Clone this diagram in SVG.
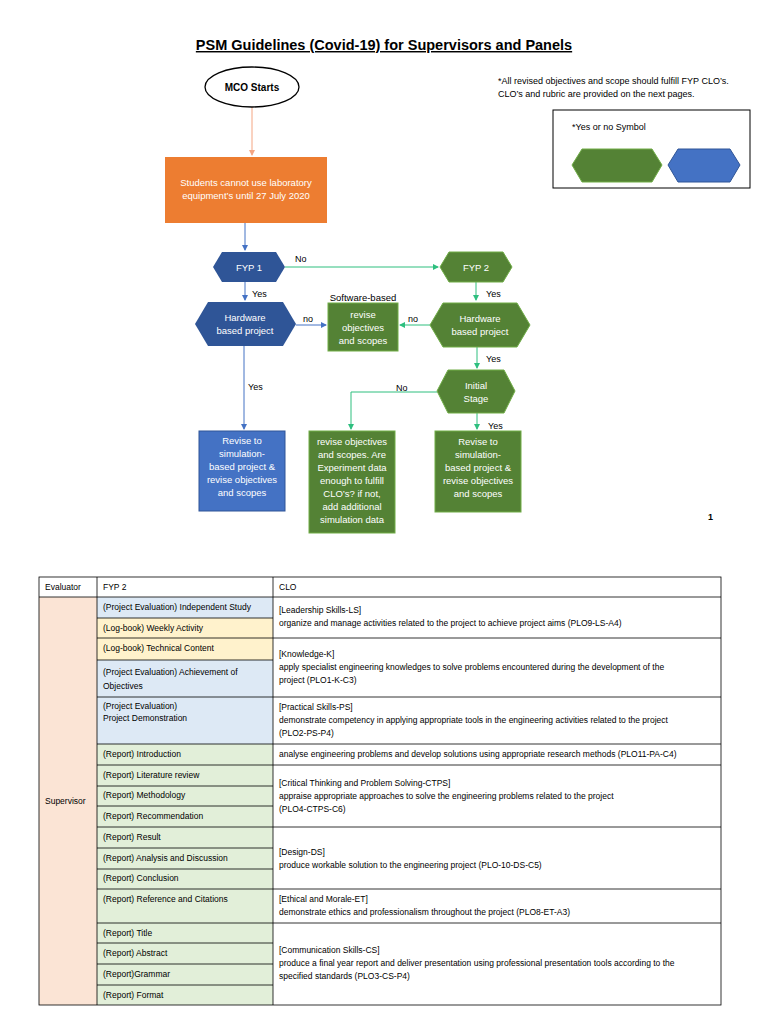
<svg xmlns="http://www.w3.org/2000/svg" width="768" height="1024" viewBox="0 0 768 1024">
<style>
text{font-family:"Liberation Sans",Arial,sans-serif}
.w{fill:#fff;font-size:9.5px;text-anchor:middle}
.k{fill:#000;font-size:9px}
.t{font-size:8.5px;fill:#000}
.g{fill:#548235;stroke:#70ad47;stroke-width:1}
.cell{stroke:#000;stroke-width:0.8}
</style>
<defs>
<marker id="ab" viewBox="0 0 6 6" refX="5" refY="3" markerWidth="6" markerHeight="6" orient="auto"><path d="M0,0L6,3L0,6z" fill="#4472c4"/></marker>
<marker id="ag" viewBox="0 0 6 6" refX="5" refY="3" markerWidth="6" markerHeight="6" orient="auto"><path d="M0,0L6,3L0,6z" fill="#2ebf7f"/></marker>
<marker id="ao" viewBox="0 0 6 6" refX="5" refY="3" markerWidth="6" markerHeight="6" orient="auto"><path d="M0,0L6,3L0,6z" fill="#f4a582"/></marker>
</defs>
<rect width="768" height="1024" fill="#fff"/>
<text x="384" y="50" text-anchor="middle" font-size="14.5" font-weight="bold" text-decoration="underline">PSM Guidelines (Covid-19) for Supervisors and Panels</text>
<g id="note"><text x="498" y="84" class="k">*All revised objectives and scope should fulfill FYP CLO’s.</text><text x="498" y="97" class="k">CLO’s and rubric are provided on the next pages.</text></g>
<g id="legend"><rect x="553" y="110" width="197" height="78" fill="#fff" stroke="#000"/><text x="572" y="130" class="k">*Yes or no Symbol</text>
<polygon points="582,149 652,149 662,165 652,182 582,182 572,165" class="g"/>
<polygon points="678,149 730,149 740,165 730,182 678,182 668,165" fill="#4472c4" stroke="#2f5597"/></g>
<g id="connectors" fill="none">
<path d="M252,107V155" stroke="#f4a582" marker-end="url(#ao)"/>
<path d="M245,223V250" stroke="#4472c4" marker-end="url(#ab)"/>
<path d="M285,267H438" stroke="#2ebf7f" marker-end="url(#ag)"/>
<path d="M245,282V300" stroke="#4472c4" marker-end="url(#ab)"/>
<path d="M296,325H326" stroke="#4472c4" marker-end="url(#ab)"/>
<path d="M476,282V300" stroke="#2ebf7f" marker-end="url(#ag)"/>
<path d="M430,325H400" stroke="#2ebf7f" marker-end="url(#ag)"/>
<path d="M477,347V368" stroke="#2ebf7f" marker-end="url(#ag)"/>
<path d="M244,346V429" stroke="#4472c4" marker-end="url(#ab)"/>
<path d="M437,392H351V429" stroke="#2ebf7f" marker-end="url(#ag)"/>
<path d="M477,413V429" stroke="#2ebf7f" marker-end="url(#ag)"/>
</g>
<g id="labels" class="k">
<text x="295" y="262">No</text><text x="252" y="297">Yes</text><text x="303" y="322">no</text><text x="408" y="322">no</text>
<text x="486" y="297">Yes</text><text x="486" y="362">Yes</text><text x="248" y="390">Yes</text><text x="396" y="391">No</text><text x="488" y="429">Yes</text>
</g>
<g id="mco"><ellipse cx="252" cy="87" rx="47" ry="20" fill="#fff" stroke="#000" stroke-width="1.3"/><text x="252" y="91" text-anchor="middle" font-size="10" font-weight="bold">MCO Starts</text></g>
<g id="students"><rect x="165" y="157" width="162" height="66" fill="#ed7d31"/><text class="w" x="246" y="186">Students cannot use laboratory</text><text class="w" x="246" y="199">equipment’s until 27 July 2020</text></g>
<g id="fyp1"><polygon points="222,252 276,252 285,267 276,282 222,282 213,267" fill="#2f5597"/><text class="w" x="249" y="271">FYP 1</text></g>
<g id="fyp2"><polygon points="449,252 503,252 512,267 503,282 449,282 440,267" class="g"/><text class="w" x="476" y="271">FYP 2</text></g>
<g id="hw1"><polygon points="208,302 283,302 296,324 283,346 208,346 195,324" fill="#2f5597"/><text class="w" x="245" y="321">Hardware</text><text class="w" x="245" y="334">based project</text></g>
<g id="sw"><text x="363" y="301" text-anchor="middle" font-size="9.5">Software-based</text><rect x="328" y="303" width="70" height="48" class="g"/><text class="w" x="363" y="318">revise</text><text class="w" x="363" y="331">objectives</text><text class="w" x="363" y="344">and scopes</text></g>
<g id="hw2"><polygon points="443,303 517,303 530,325 517,347 443,347 430,325" class="g"/><text class="w" x="480" y="322">Hardware</text><text class="w" x="480" y="335">based project</text></g>
<g id="init"><polygon points="448,370 504,370 515,391 504,413 448,413 437,391" class="g"/><text class="w" x="476" y="389">Initial</text><text class="w" x="476" y="402">Stage</text></g>
<g id="blue"><rect x="199" y="431" width="86" height="80" fill="#4472c4" stroke="#2f5597"/><text class="w" x="242" y="444">Revise to</text><text class="w" x="242" y="457">simulation-</text><text class="w" x="242" y="470">based project &amp;</text><text class="w" x="242" y="483">revise objectives</text><text class="w" x="242" y="496">and scopes</text></g>
<g id="mid"><rect x="309" y="431" width="86" height="102" class="g"/><text class="w" x="352" y="445">revise objectives</text><text class="w" x="352" y="458">and scopes. Are</text><text class="w" x="352" y="471">Experiment data</text><text class="w" x="352" y="484">enough to fulfill</text><text class="w" x="352" y="497">CLO’s? if not,</text><text class="w" x="352" y="510">add additional</text><text class="w" x="352" y="523">simulation data</text></g>
<g id="right"><rect x="435" y="431" width="86" height="81" class="g"/><text class="w" x="478" y="445">Revise to</text><text class="w" x="478" y="458">simulation-</text><text class="w" x="478" y="471">based project &amp;</text><text class="w" x="478" y="484">revise objectives</text><text class="w" x="478" y="497">and scopes</text></g>
<text x="708" y="520" font-size="9" font-weight="bold">1</text>
<g id="table">
<rect x="39" y="597" width="58" height="408" fill="#fbe4d5"/>
<rect x="97" y="597" width="176" height="21" fill="#dde9f5"/>
<rect x="97" y="618" width="176" height="42" fill="#fff2cc"/>
<rect x="97" y="660" width="176" height="84" fill="#dde9f5"/>
<rect x="97" y="744" width="176" height="261" fill="#e2efd9"/>
<g class="cell" fill="none">
<rect x="39" y="577" width="682" height="428"/>
<path d="M97,577V1005M273,577V1005M39,597H721"/>
<path d="M97,618H273M97,638H721M97,660H273M97,697H721M97,744H721M97,765H721M97,786H273M97,806H273M97,827H721M97,848H273M97,869H273M97,889H721M97,923H721M97,943H273M97,964H273M97,985H273"/>
</g>
<g class="t">
<text x="45" y="590">Evaluator</text><text x="103" y="590">FYP 2</text><text x="279" y="590">CLO</text>
<text x="45" y="804">Supervisor</text>
<text x="103" y="610">(Project Evaluation) Independent Study</text>
<text x="103" y="631">(Log-book) Weekly Activity</text>
<text x="103" y="651">(Log-book) Technical Content</text>
<text x="103" y="675">(Project Evaluation) Achievement of</text><text x="103" y="689">Objectives</text>
<text x="103" y="709">(Project Evaluation)</text><text x="103" y="721">Project Demonstration</text>
<text x="103" y="757">(Report) Introduction</text>
<text x="103" y="778">(Report) Literature review</text>
<text x="103" y="798">(Report) Methodology</text>
<text x="103" y="819">(Report) Recommendation</text>
<text x="103" y="840">(Report) Result</text>
<text x="103" y="861">(Report) Analysis and Discussion</text>
<text x="103" y="881">(Report) Conclusion</text>
<text x="103" y="902">(Report) Reference and Citations</text>
<text x="103" y="936">(Report) Title</text>
<text x="103" y="956">(Report) Abstract</text>
<text x="103" y="977">(Report)Grammar</text>
<text x="103" y="998">(Report) Format</text>
<text x="279" y="613">[Leadership Skills-LS]</text><text x="279" y="626">organize and manage activities related to the project to achieve project aims (PLO9-LS-A4)</text>
<text x="279" y="657">[Knowledge-K]</text><text x="279" y="670">apply specialist engineering knowledges to solve problems encountered during the development of the</text><text x="279" y="683">project (PLO1-K-C3)</text>
<text x="279" y="710">[Practical Skills-PS]</text><text x="279" y="723">demonstrate competency in applying appropriate tools in the engineering activities related to the project</text><text x="279" y="736">(PLO2-PS-P4)</text>
<text x="279" y="757">analyse engineering problems and develop solutions using appropriate research methods (PLO11-PA-C4)</text>
<text x="279" y="786">[Critical Thinking and Problem Solving-CTPS]</text><text x="279" y="799">appraise appropriate approaches to solve the engineering problems related to the project</text><text x="279" y="812">(PLO4-CTPS-C6)</text>
<text x="279" y="855">[Design-DS]</text><text x="279" y="868">produce workable solution to the engineering project (PLO-10-DS-C5)</text>
<text x="279" y="902">[Ethical and Morale-ET]</text><text x="279" y="915">demonstrate ethics and professionalism throughout the project (PLO8-ET-A3)</text>
<text x="279" y="953">[Communication Skills-CS]</text><text x="279" y="966">produce a final year report and deliver presentation using professional presentation tools according to the</text><text x="279" y="979">specified standards (PLO3-CS-P4)</text>
</g>
</g>
</svg>
